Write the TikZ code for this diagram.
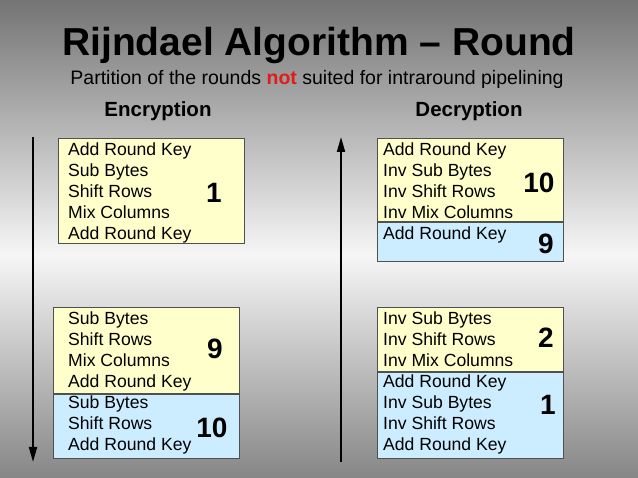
\documentclass[tikz,border=0pt]{standalone}
\usepackage{fontspec}
\setmainfont{Liberation Sans}
\usetikzlibrary{arrows.meta}

\definecolor{roundyel}{HTML}{FFFFCC}
\definecolor{roundblu}{HTML}{CCECFF}
\definecolor{boxedge}{HTML}{505050}
\definecolor{notred}{HTML}{E01B1B}
\definecolor{bgtop}{HTML}{747474}
\definecolor{bgmid}{HTML}{F6F6F6}
\definecolor{bgbot}{HTML}{868686}

\tikzset{
  part/.style={draw=boxedge, line width=0.8pt, anchor=north west,
    minimum width=186pt, inner sep=0pt},
  op/.style={anchor=base west, inner sep=0pt, font=\fontsize{17.6}{20}\selectfont},
  roundno/.style={inner sep=0pt, font=\fontsize{28}{30}\selectfont\bfseries},
  flow/.style={line width=2pt, -{Triangle[length=15pt,width=8pt]}},
}

\begin{document}
\begin{tikzpicture}[x=1pt,y=-1pt]
\useasboundingbox (0,0) rectangle (638,478);
\shade[top color=bgtop, bottom color=bgmid] (0,0) rectangle (638,255);
\shade[top color=bgmid, bottom color=bgbot] (0,255) rectangle (638,478);

% headings
\node[anchor=base, font=\fontsize{39}{40}\selectfont\bfseries] (title) at (319,56) {Rijndael Algorithm – Round};
\node[anchor=base, font=\fontsize{19.5}{20}\selectfont] (sub) at (317,85)
  {Partition of the rounds \textcolor{notred}{\textbf{not}} suited for intraround pipelining};
\node[anchor=base, font=\fontsize{20.5}{22}\selectfont\bfseries] (enc) at (158,117) {Encryption};
\node[anchor=base, font=\fontsize{20.5}{22}\selectfont\bfseries] (dec) at (469,117) {Decryption};

% round boxes
\node[part, fill=roundyel, minimum height=105pt] (e1) at (58,138) {};
\node[part, fill=roundyel, minimum height=86pt] (e9) at (53,307) {};
\node[part, fill=roundblu, minimum height=64pt] (e10) at (e9.south west) {};
\node[part, fill=roundyel, minimum height=83pt] (d10) at (377,138) {};
\node[part, fill=roundblu, minimum height=39pt] (d9) at (d10.south west) {};
\node[part, fill=roundyel, minimum height=64pt] (d2) at (377,307) {};
\node[part, fill=roundblu, minimum height=86pt] (d1) at (d2.south west) {};

% operations
\foreach \y/\txt [count=\i] in {156/Add Round Key,177/Sub Bytes,198/Shift Rows,
    219/Mix Columns,240/Add Round Key}
  \node[op] (ea\i) at (68,\y) {\txt};
\foreach \y/\txt [count=\i] in {325/Sub Bytes,346/Shift Rows,367/Mix Columns,
    388/Add Round Key,409/Sub Bytes,430/Shift Rows,451/Add Round Key}
  \node[op] (eb\i) at (68,\y) {\txt};
\foreach \y/\txt [count=\i] in {156/Add Round Key,177/Inv Sub Bytes,198/Inv Shift Rows,
    219/Inv Mix Columns,240/Add Round Key}
  \node[op] (da\i) at (383,\y) {\txt};
\foreach \y/\txt [count=\i] in {325/Inv Sub Bytes,346/Inv Shift Rows,367/Inv Mix Columns,
    388/Add Round Key,409/Inv Sub Bytes,430/Inv Shift Rows,451/Add Round Key}
  \node[op] (db\i) at (383,\y) {\txt};

% round numbers
\node[roundno] (n1) at (214,193) {1};
\node[roundno] (n9) at (215,349) {9};
\node[roundno] (n10) at (212,428) {10};
\node[roundno] (m10) at (539,183) {10};
\node[roundno] (m9) at (546,244) {9};
\node[roundno] (m2) at (546,338) {2};
\node[roundno] (m1) at (548,405) {1};

% direction
\coordinate (etop) at (33,137);
\coordinate (ebot) at (33,462);
\draw[flow] (etop) -- (ebot);
\coordinate (dbot) at (341,462);
\coordinate (dtop) at (341,137);
\draw[flow] (dbot) -- (dtop);
\end{tikzpicture}
\end{document}
